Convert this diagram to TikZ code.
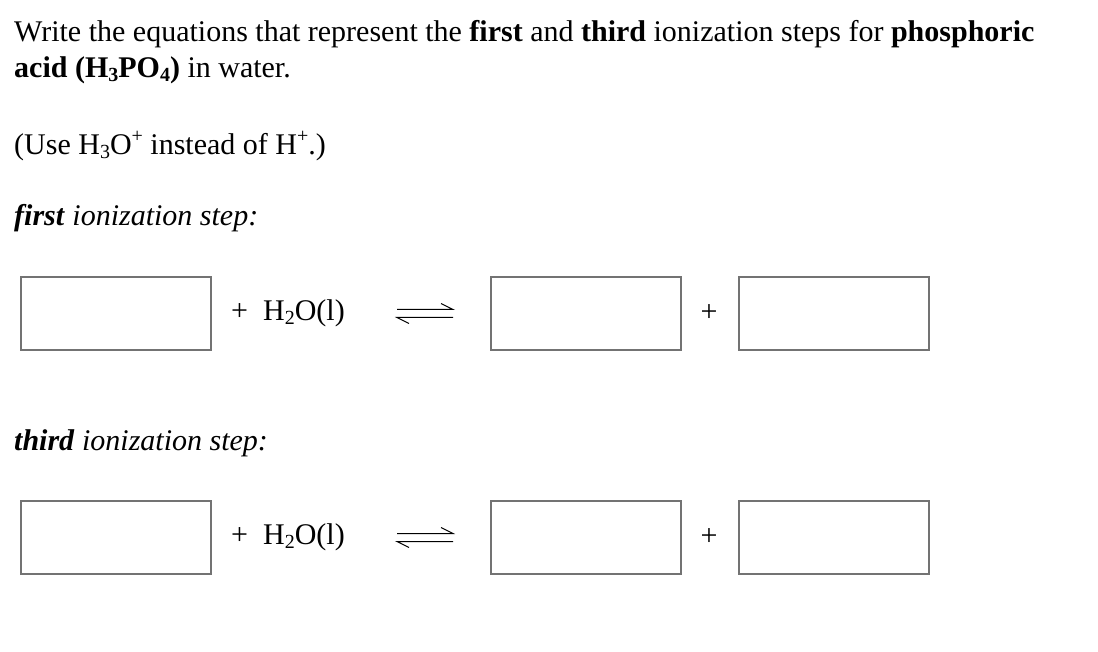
\documentclass[tikz,border=0pt]{standalone}
\usepackage{fontspec}
\setmainfont{Liberation Serif}
\newcommand{\sbs}[1]{\raisebox{-0.25ex}{\fontsize{20}{20}\selectfont #1}}
\newcommand{\sps}[1]{\raisebox{0.9ex}{\fontsize{20}{20}\selectfont #1}}
\begin{document}
\begin{tikzpicture}[x=1pt,y=-1pt,
  txt/.style={anchor=base west,inner sep=0pt,font=\fontsize{30}{34}\selectfont},
  eq/.style={inner sep=0pt,font=\fontsize{30}{34}\selectfont},
  ansbox/.style={draw=gray!110,line width=1.3pt,minimum width=190pt,minimum height=73pt,inner sep=0pt}]
\useasboundingbox (0,0) rectangle (1098,652);
\node[txt] (l1) at (14,42) {Write the equations that represent the \textbf{first} and \textbf{third} ionization steps for \textbf{phosphoric}};
\node[txt] (l2) at (14,78) {\textbf{acid (H\sbs{3}PO\sbs{4})} in water.};
\node[txt] (l3) at (14,155) {(Use H\sbs{3}O\sps{+} instead of H\sps{+}.)};
\node[txt] (l4) at (14,226) {\textbf{\itshape first} \textit{ionization step:}};
\node[txt] (l5) at (14,450) {\textbf{\itshape third} \textit{ionization step:}};
\foreach \r/\y in {a/313.5,b/537.5}{
  \node[ansbox] (\r1) at (116,\y) {};
  \node[ansbox] (\r2) at (586,\y) {};
  \node[ansbox] (\r3) at (834,\y) {};
  \node[eq,anchor=west] (\r w) at (231,\y) {+\enspace H\sbs{2}O(l)};
  \node[eq] (\r p) at (709,\y) {+};
  \coordinate (\r s) at (397,\y);
  \coordinate (\r e) at (453,\y);
  \draw[line width=1pt] (397,\y-4) -- (453,\y-4) -- (441,\y-10);
  \draw[line width=1pt] (453,\y+4) -- (397,\y+4) -- (409,\y+10);
}
\end{tikzpicture}
\end{document}
